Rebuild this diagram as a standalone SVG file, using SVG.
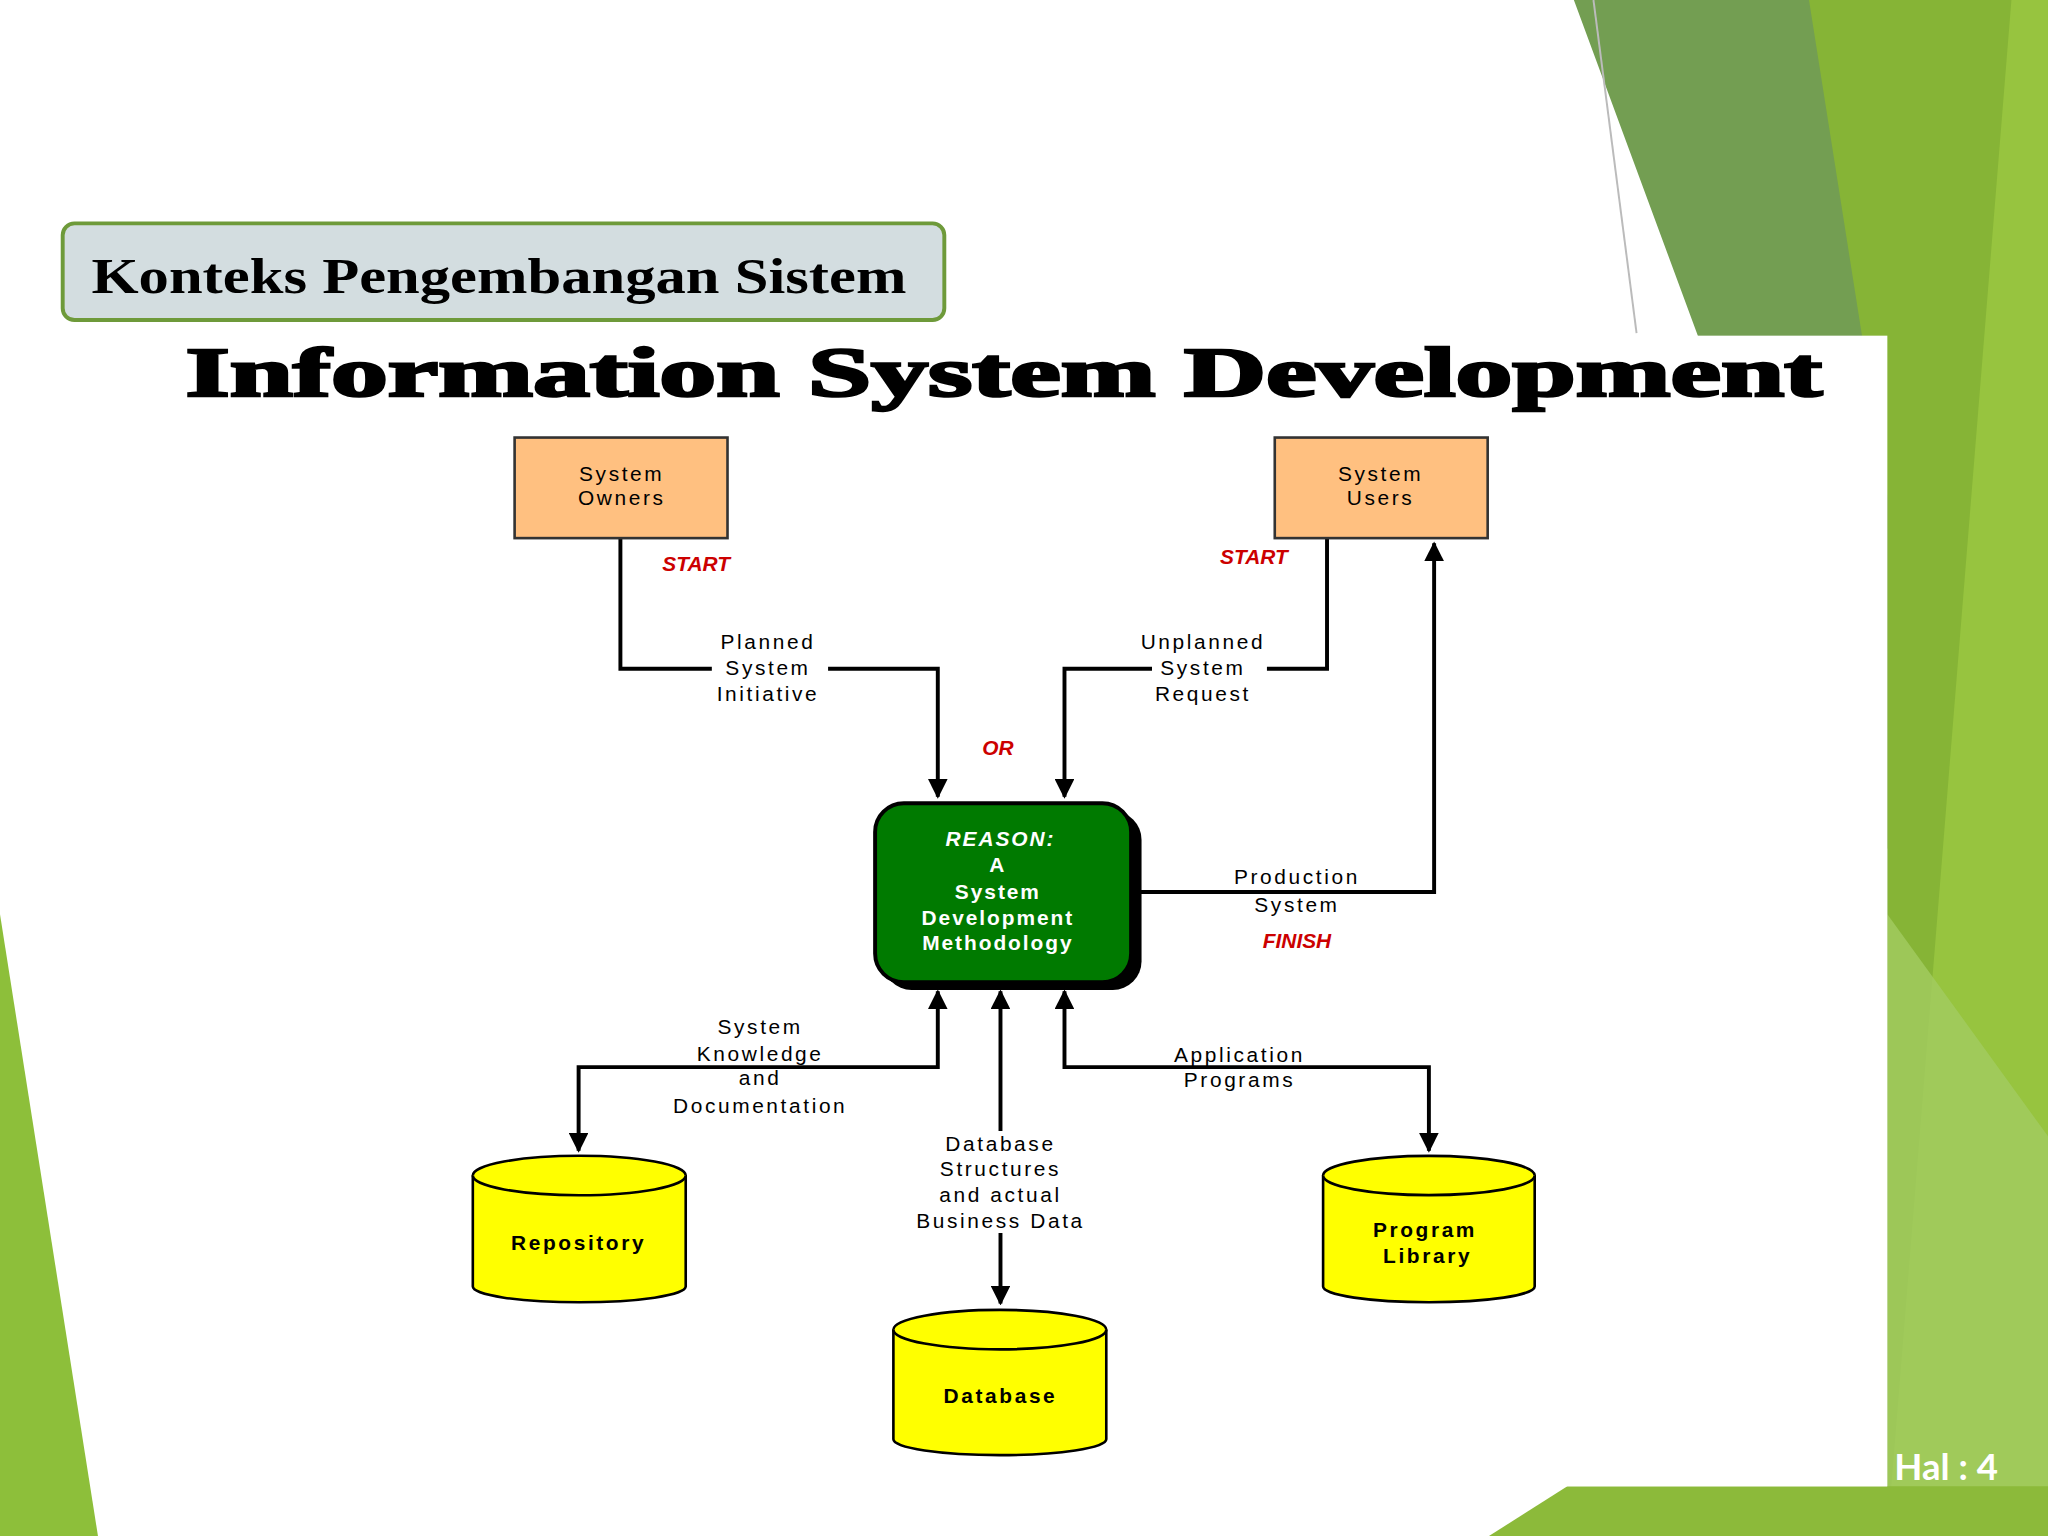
<svg xmlns="http://www.w3.org/2000/svg" width="2048" height="1536" viewBox="0 0 2048 1536">
<defs>
<style>
.lbl{font-family:"Liberation Sans",Arial,sans-serif;font-size:16px;fill:#000;text-anchor:middle;letter-spacing:2px}
.red{font-family:"Liberation Sans",Arial,sans-serif;font-size:16px;font-weight:bold;font-style:italic;fill:#CC0000;text-anchor:middle}
.wt{font-family:"Liberation Sans",Arial,sans-serif;font-size:16px;font-weight:bold;fill:#fff;text-anchor:middle;letter-spacing:1.5px}
.ln{fill:none;stroke:#000;stroke-width:3}
.box{fill:#FFC080;stroke:#333;stroke-width:2}
.cyl{fill:#FFFF00;stroke:#000;stroke-width:2}
</style>
<marker id="ah" viewBox="0 0 10 10" refX="9" refY="5" markerWidth="5" markerHeight="5" orient="auto-start-reverse"><path d="M0,0L10,5L0,10z" fill="#000"/></marker>
</defs>
<g transform="scale(1.30612)">
<rect width="1568" height="1176" fill="#fff"/>
<polygon points="1205,0 1568,0 1568,1176 1445,1176 1445,650" fill="#739E52"/>
<polygon points="1385,0 1568,0 1568,1176 1445,1176 1445,380" fill="#86B436"/>
<polygon points="1540,0 1568,0 1568,1176 1445,1176" fill="#97C43F"/>
<polygon points="1445,700 1568,870 1568,1176 1445,1176" fill="#A3CC62" opacity="0.8"/>
<polygon points="1140,1176 1200,1138 1568,1138 1568,1176" fill="#8CBA3A"/>
<polygon points="0,700 75,1176 0,1176" fill="#8DBF3A"/>
<line x1="1220" y1="0" x2="1253" y2="255" stroke="#bbb" stroke-width="1.5"/>
<rect x="140" y="257" width="1305" height="881" fill="#fff"/>
<g id="header">
<rect x="48" y="171" width="675" height="74" rx="9" fill="#D3DDE0" stroke="#6E9A3A" stroke-width="3"/>
<text x="70" y="224" font-family="Liberation Serif,serif" font-weight="bold" font-size="38" textLength="624" lengthAdjust="spacingAndGlyphs">Konteks Pengembangan Sistem</text>
</g>
<text id="title" x="142" y="303" font-family="Liberation Serif,serif" font-weight="900" font-size="54" textLength="1253" lengthAdjust="spacingAndGlyphs" stroke="#000" stroke-width="2">Information System Development</text>
<g id="connectors">
<polyline class="ln" points="475,412 475,512 545,512"/>
<polyline class="ln" points="634,512 718,512 718,610" marker-end="url(#ah)"/>
<polyline class="ln" points="1016,412 1016,512 970,512"/>
<polyline class="ln" points="882,512 815,512 815,610" marker-end="url(#ah)"/>
<polyline class="ln" points="873,683 1098,683 1098,416" marker-end="url(#ah)"/>
<polyline class="ln" points="718,759 718,817 443,817 443,881" marker-start="url(#ah)" marker-end="url(#ah)"/>
<line class="ln" x1="766" y1="759" x2="766" y2="866" stroke-width="2" marker-start="url(#ah)"/>
<line class="ln" x1="766" y1="944" x2="766" y2="998" stroke-width="2" marker-end="url(#ah)"/>
<polyline class="ln" points="815,759 815,817 1094,817 1094,881" marker-start="url(#ah)" marker-end="url(#ah)"/>
</g>
<g id="labels">
<text class="lbl" x="588" y="497">Planned</text><text class="lbl" x="588" y="517">System</text><text class="lbl" x="588" y="537">Initiative</text>
<text class="lbl" x="921" y="497">Unplanned</text><text class="lbl" x="921" y="517">System</text><text class="lbl" x="921" y="537">Request</text>
<text class="red" x="764" y="578" font-weight="normal">OR</text>
<text class="red" x="533" y="437">START</text>
<text class="red" x="960" y="432">START</text>
<text class="lbl" x="993" y="677">Production</text><text class="lbl" x="993" y="698">System</text>
<text class="red" x="993" y="726">FINISH</text>
<text class="lbl" x="582" y="792">System</text><text class="lbl" x="582" y="812">Knowledge</text><text class="lbl" x="582" y="831">and</text><text class="lbl" x="582" y="852">Documentation</text>
<text class="lbl" x="766" y="881">Database</text><text class="lbl" x="766" y="900">Structures</text><text class="lbl" x="766" y="920">and actual</text><text class="lbl" x="766" y="940">Business Data</text>
<text class="lbl" x="949" y="813">Application</text><text class="lbl" x="949" y="832">Programs</text>
</g>
<g id="owners"><rect class="box" x="394" y="335" width="163" height="77"/><text class="lbl" x="476" y="368">System</text><text class="lbl" x="476" y="387">Owners</text></g>
<g id="users"><rect class="box" x="976" y="335" width="163" height="77"/><text class="lbl" x="1057" y="368">System</text><text class="lbl" x="1057" y="387">Users</text></g>
<g id="reason">
<rect x="676" y="621" width="198" height="137" rx="22" fill="#000"/>
<rect x="670" y="615" width="196" height="137" rx="22" fill="#007A00" stroke="#000" stroke-width="3"/>
<text class="wt" x="766" y="648" font-style="italic" font-weight="normal">REASON:</text>
<text class="wt" x="764" y="668">A</text>
<text class="wt" x="764" y="688">System</text>
<text class="wt" x="764" y="708">Development</text>
<text class="wt" x="764" y="727">Methodology</text>
</g>
<g id="repository"><path class="cyl" d="M362,900 A81,15 0 0 1 525,900 L525,985 A81,12 0 0 1 362,985 Z"/><path class="cyl" d="M362,900 A81,15 0 0 0 525,900" fill="none"/><text class="lbl" x="443" y="957" font-weight="bold">Repository</text></g>
<g id="library"><path class="cyl" d="M1013,900 A81,15 0 0 1 1175,900 L1175,985 A81,12 0 0 1 1013,985 Z"/><path class="cyl" d="M1013,900 A81,15 0 0 0 1175,900" fill="none"/><text class="lbl" x="1091" y="947" font-weight="bold">Program</text><text class="lbl" x="1093" y="967" font-weight="bold">Library</text></g>
<g id="database"><path class="cyl" d="M684,1018 A81,15 0 0 1 847,1018 L847,1102 A81,12 0 0 1 684,1102 Z"/><path class="cyl" d="M684,1018 A81,15 0 0 0 847,1018" fill="none"/><text class="lbl" x="766" y="1074" font-weight="bold">Database</text></g>
<text x="1490" y="1133" font-family="Lato,sans-serif" font-weight="bold" font-size="28" fill="#fff" text-anchor="middle">Hal : 4</text>
</g>
</svg>
